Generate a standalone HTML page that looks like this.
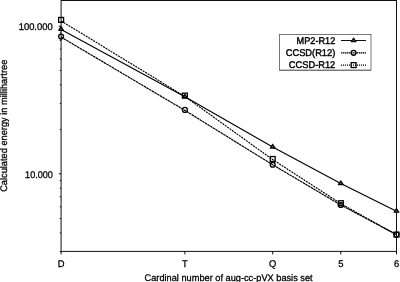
<!DOCTYPE html><html><head><meta charset="utf-8"><title>chart</title><style>html,body{margin:0;padding:0;background:#fff}svg{display:block;font-family:'Liberation Sans',sans-serif;font-size:9.4px;text-rendering:geometricPrecision}text{fill:#000;stroke:#000;stroke-width:0.28px}</style></head><body><svg width="400" height="282" viewBox="0 0 400 282">
<rect x="0" y="0" width="400" height="282" fill="#fff"/>
<rect x="61.1" y="0.5" width="335.4" height="250.9" fill="none" stroke="#111" stroke-width="1"/>
<line x1="61.1" y1="251.5" x2="59.8" y2="251.5" stroke="#000" stroke-width="0.95"/>
<line x1="61.1" y1="232.9" x2="59.8" y2="232.9" stroke="#000" stroke-width="0.95"/>
<line x1="61.1" y1="218.5" x2="59.8" y2="218.5" stroke="#000" stroke-width="0.95"/>
<line x1="61.1" y1="206.8" x2="59.8" y2="206.8" stroke="#000" stroke-width="0.95"/>
<line x1="61.1" y1="196.8" x2="59.8" y2="196.8" stroke="#000" stroke-width="0.95"/>
<line x1="61.1" y1="188.2" x2="59.8" y2="188.2" stroke="#000" stroke-width="0.95"/>
<line x1="61.1" y1="180.6" x2="59.8" y2="180.6" stroke="#000" stroke-width="0.95"/>
<line x1="61.1" y1="173.8" x2="58.8" y2="173.8" stroke="#000" stroke-width="0.95"/>
<line x1="61.1" y1="129.4" x2="59.8" y2="129.4" stroke="#000" stroke-width="0.95"/>
<line x1="61.1" y1="103.4" x2="59.8" y2="103.4" stroke="#000" stroke-width="0.95"/>
<line x1="61.1" y1="84.9" x2="59.8" y2="84.9" stroke="#000" stroke-width="0.95"/>
<line x1="61.1" y1="70.6" x2="59.8" y2="70.6" stroke="#000" stroke-width="0.95"/>
<line x1="61.1" y1="58.9" x2="59.8" y2="58.9" stroke="#000" stroke-width="0.95"/>
<line x1="61.1" y1="49.1" x2="59.8" y2="49.1" stroke="#000" stroke-width="0.95"/>
<line x1="61.1" y1="40.5" x2="59.8" y2="40.5" stroke="#000" stroke-width="0.95"/>
<line x1="61.1" y1="33.0" x2="59.8" y2="33.0" stroke="#000" stroke-width="0.95"/>
<line x1="61.1" y1="26.2" x2="58.8" y2="26.2" stroke="#000" stroke-width="0.95"/>
<line x1="61.1" y1="251.4" x2="61.1" y2="254.4" stroke="#000" stroke-width="0.95"/>
<line x1="184.9" y1="251.4" x2="184.9" y2="254.4" stroke="#000" stroke-width="0.95"/>
<line x1="272.7" y1="251.4" x2="272.7" y2="254.4" stroke="#000" stroke-width="0.95"/>
<line x1="340.8" y1="251.4" x2="340.8" y2="254.4" stroke="#000" stroke-width="0.95"/>
<line x1="396.5" y1="251.4" x2="396.5" y2="254.4" stroke="#000" stroke-width="0.95"/>
<text transform="translate(52.6,29.8) scale(1,1.04)" text-anchor="end">100.000</text>
<text transform="translate(52.8,177.8) scale(1,1.04)" text-anchor="end" textLength="27.7" lengthAdjust="spacingAndGlyphs">10.000</text>
<text transform="translate(61.1,266.5) scale(1,1.04)" text-anchor="middle">D</text>
<text transform="translate(184.9,266.5) scale(1,1.04)" text-anchor="middle">T</text>
<text transform="translate(272.7,266.5) scale(1,1.04)" text-anchor="middle">Q</text>
<text transform="translate(340.8,266.5) scale(1,1.04)" text-anchor="middle">5</text>
<text transform="translate(396.5,266.5) scale(1,1.04)" text-anchor="middle">6</text>
<text transform="translate(228.6,280.7) scale(1,1.04)" text-anchor="middle" style="font-size:9.22px">Cardinal number of aug-cc-pVX basis set</text>
<text transform="translate(6.8,125.8) rotate(-90) scale(1,1.04)" text-anchor="middle" style="font-size:9.25px">Calculated energy in millihartree</text>
<polyline points="61.1,29.6 184.9,96.8 272.7,147.1 340.8,183.6 396.5,211.2" fill="none" stroke="#000" stroke-width="1.15"/>
<polyline points="61.1,37.1 184.9,110.4 272.7,164.8 340.8,205.0 396.5,234.6" fill="none" stroke="#000" stroke-width="1.2" stroke-dasharray="2.6 0.5"/>
<polyline points="61.1,20.9 184.9,96.5 272.7,159.6 340.8,203.6 396.5,234.8" fill="none" stroke="#000" stroke-width="1.15" stroke-dasharray="2.0 0.9"/>
<polygon points="61.1,26.6 58.7,30.4 63.5,30.4" fill="#444" stroke="#000" stroke-width="1.1" stroke-linejoin="round"/>
<polygon points="184.9,94.2 182.5,98.0 187.3,98.0" fill="#444" stroke="#000" stroke-width="1.1" stroke-linejoin="round"/>
<polygon points="272.7,144.2 270.3,148.1 275.1,148.1" fill="#444" stroke="#000" stroke-width="1.1" stroke-linejoin="round"/>
<polygon points="340.8,180.8 338.4,184.6 343.2,184.6" fill="#444" stroke="#000" stroke-width="1.1" stroke-linejoin="round"/>
<polygon points="396.5,208.5 394.1,212.3 398.9,212.3" fill="#444" stroke="#000" stroke-width="1.1" stroke-linejoin="round"/>
<circle cx="61.1" cy="36.6" r="2.45" fill="none" stroke="#000" stroke-width="1.3"/>
<circle cx="184.9" cy="109.9" r="2.45" fill="none" stroke="#000" stroke-width="1.3"/>
<circle cx="272.7" cy="164.7" r="2.45" fill="none" stroke="#000" stroke-width="1.3"/>
<circle cx="340.8" cy="205.0" r="2.45" fill="none" stroke="#000" stroke-width="1.3"/>
<circle cx="396.5" cy="234.6" r="2.45" fill="none" stroke="#000" stroke-width="1.3"/>
<rect x="58.65" y="17.45" width="4.9" height="4.9" fill="none" stroke="#000" stroke-width="1.3"/>
<rect x="182.44" y="93.15" width="4.9" height="4.9" fill="none" stroke="#000" stroke-width="1.3"/>
<rect x="270.26" y="156.55" width="4.9" height="4.9" fill="none" stroke="#000" stroke-width="1.3"/>
<rect x="338.39" y="200.75" width="4.9" height="4.9" fill="none" stroke="#000" stroke-width="1.3"/>
<rect x="394.05" y="232.15" width="4.9" height="4.9" fill="none" stroke="#000" stroke-width="1.3"/>
<rect x="279.5" y="34.5" width="91.5" height="35.7" fill="#fff" stroke="#555" stroke-width="0.8"/>
<text transform="translate(335.3,43.7) scale(1,1.04)" text-anchor="end" style="stroke-width:0.4px" textLength="38.7" lengthAdjust="spacingAndGlyphs">MP2-R12</text>
<line x1="341" y1="40.5" x2="366" y2="40.5" stroke="#000" stroke-width="0.95" />
<polygon points="353.6,38.0 351.2,41.8 356.0,41.8" fill="#444" stroke="#000" stroke-width="1.1" stroke-linejoin="round"/>
<text transform="translate(335.3,55.9) scale(1,1.04)" text-anchor="end" style="stroke-width:0.4px" textLength="49.6" lengthAdjust="spacingAndGlyphs">CCSD(R12)</text>
<line x1="341" y1="52.8" x2="366" y2="52.8" stroke="#000" stroke-width="1.15" stroke-dasharray="1.5 0.5"/>
<circle cx="353.6" cy="52.8" r="2.45" fill="none" stroke="#000" stroke-width="1.3"/>
<text transform="translate(335.3,67.9) scale(1,1.04)" text-anchor="end" style="stroke-width:0.4px" textLength="46.5" lengthAdjust="spacingAndGlyphs">CCSD-R12</text>
<line x1="341" y1="65.1" x2="366" y2="65.1" stroke="#000" stroke-width="1.15" stroke-dasharray="1.1 0.9"/>
<rect x="351.15" y="62.65" width="4.9" height="4.9" fill="none" stroke="#000" stroke-width="1.3"/>
<line x1="279.5" y1="70.3" x2="371" y2="70.3" stroke="#777" stroke-width="1.3"/>
</svg></body></html>
